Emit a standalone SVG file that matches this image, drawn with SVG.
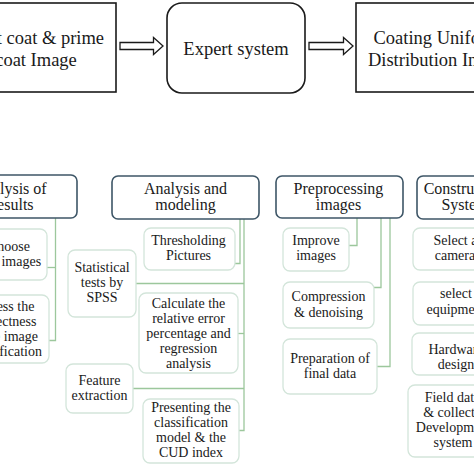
<svg xmlns="http://www.w3.org/2000/svg" width="474" height="474" viewBox="0 0 474 474" font-family="'Liberation Serif', 'DejaVu Serif', serif">
<style>
  text { font-family: "Liberation Serif", "DejaVu Serif", serif; fill: #1a1a1a; text-anchor: middle; }
  .top { font-size: 18.5px; }
  .hd { font-size: 16px; }
  .ch { font-size: 14px; }
  .tbox { fill: #ffffff; stroke: #1a1a1a; stroke-width: 1.6; }
  .arrow { fill: #ffffff; stroke: #1a1a1a; stroke-width: 1.3; stroke-linejoin: miter; }
  .hbox { fill: #ffffff; stroke: #3e5667; stroke-width: 1.6; }
  .cbox { fill: #ffffff; stroke: #d3e5da; stroke-width: 1.3; }
  .conn { fill: none; stroke: #9cc79c; stroke-width: 1.3; }
</style>
<rect x="0" y="0" width="474" height="474" fill="#ffffff"/>

<g id="node-input">
  <rect class="tbox" x="-60" y="3" width="176" height="89"/>
  <text class="top" x="36" y="44" font-family="Liberation Serif">First coat &amp; prime</text>
  <text class="top" x="36" y="66" font-family="Liberation Serif">coat Image</text>
</g>
<g id="node-expert">
  <rect class="tbox" x="167" y="3" width="138" height="90" rx="15" ry="15"/>
  <text class="top" x="236" y="55" font-family="Liberation Serif">Expert system</text>
</g>
<g id="node-output">
  <rect class="tbox" x="356" y="3" width="160" height="89"/>
  <text class="top" x="437" y="44" font-family="Liberation Serif">Coating Uniform</text>
  <text class="top" x="436" y="66" font-family="Liberation Serif">Distribution Index</text>
</g>

<g id="connectors">
  <path class="arrow" d="M120,42.5 H153.5 V37.5 L163,46 L153.5,54.5 V49.5 H120 Z"/>
  <path class="arrow" d="M309,42.5 H343.5 V37.5 L353,46 L343.5,54.5 V49.5 H309 Z"/>
  <path class="conn" d="M55.5,218 V340.5 H49"/>
  <path class="conn" d="M55.5,267.5 H47"/>
  <path class="conn" d="M240,219 V263.5 H235"/>
  <path class="conn" d="M244,219 V430.5 H239"/>
  <path class="conn" d="M136,283.5 H244"/>
  <path class="conn" d="M238,333.5 H244"/>
  <path class="conn" d="M133,388.5 H244"/>
  <path class="conn" d="M357,218 V245.5 H349"/>
  <path class="conn" d="M381,218 V287.5 H374"/>
  <path class="conn" d="M390,218 V366.5 H377"/>
</g>

<g id="node-results">
  <rect class="hbox" x="-57" y="175" width="134" height="43" rx="6"/>
  <text class="hd" x="10" y="194">Analysis of</text>
  <text class="hd" x="10" y="210">Results</text>
</g>
<g id="node-choose">
  <rect class="cbox" x="-30" y="229" width="77" height="51" rx="7"/>
  <text class="ch" x="9" y="251">Choose</text>
  <text class="ch" x="11" y="266">the images</text>
</g>
<g id="node-assess">
  <rect class="cbox" x="-40" y="295" width="89" height="68" rx="7"/>
  <text class="ch" x="5" y="311">Assess the</text>
  <text class="ch" x="5" y="326">correctness</text>
  <text class="ch" x="3" y="341">of the image</text>
  <text class="ch" x="5" y="356">classification</text>
</g>

<g id="node-modeling">
  <rect class="hbox" x="112" y="176" width="147" height="43" rx="6"/>
  <text class="hd" x="185.5" y="194">Analysis and</text>
  <text class="hd" x="185.5" y="210">modeling</text>
</g>
<g id="node-threshold">
  <rect class="cbox" x="144" y="228" width="91" height="42" rx="7"/>
  <text class="ch" x="188.5" y="245">Thresholding</text>
  <text class="ch" x="188.5" y="260">Pictures</text>
</g>
<g id="node-spss">
  <rect class="cbox" x="68" y="250" width="68" height="67" rx="7"/>
  <text class="ch" x="102" y="272">Statistical</text>
  <text class="ch" x="102" y="287">tests by</text>
  <text class="ch" x="102" y="302">SPSS</text>
</g>
<g id="node-error">
  <rect class="cbox" x="139" y="293" width="99" height="80" rx="7"/>
  <text class="ch" x="188.5" y="308">Calculate the</text>
  <text class="ch" x="188.5" y="323">relative error</text>
  <text class="ch" x="188.5" y="338">percentage and</text>
  <text class="ch" x="188.5" y="353">regression</text>
  <text class="ch" x="188.5" y="368">analysis</text>
</g>
<g id="node-feature">
  <rect class="cbox" x="66" y="364" width="67" height="49" rx="7"/>
  <text class="ch" x="99.5" y="385">Feature</text>
  <text class="ch" x="99.5" y="400">extraction</text>
</g>
<g id="node-present">
  <rect class="cbox" x="143" y="399" width="96" height="64" rx="7"/>
  <text class="ch" x="191" y="412">Presenting the</text>
  <text class="ch" x="191" y="427">classification</text>
  <text class="ch" x="191" y="442">model &amp; the</text>
  <text class="ch" x="191" y="457">CUD index</text>
</g>

<g id="node-preprocess">
  <rect class="hbox" x="276" y="176" width="127" height="42" rx="6"/>
  <text class="hd" x="338.5" y="194">Preprocessing</text>
  <text class="hd" x="338.5" y="210">images</text>
</g>
<g id="node-improve">
  <rect class="cbox" x="283" y="228" width="66" height="43" rx="7"/>
  <text class="ch" x="316" y="245">Improve</text>
  <text class="ch" x="316" y="260">images</text>
</g>
<g id="node-compress">
  <rect class="cbox" x="283" y="282" width="91" height="46" rx="7"/>
  <text class="ch" x="328.5" y="301">Compression</text>
  <text class="ch" x="328.5" y="317">&amp; denoising</text>
</g>
<g id="node-prepare">
  <rect class="cbox" x="283" y="339" width="94" height="55" rx="7"/>
  <text class="ch" x="330" y="363">Preparation of</text>
  <text class="ch" x="330" y="378">final data</text>
</g>

<g id="node-construct">
  <rect class="hbox" x="417" y="176" width="96" height="43" rx="6"/>
  <text class="hd" x="465" y="194">Construction</text>
  <text class="hd" x="465" y="210">System</text>
</g>
<g id="node-camera">
  <rect class="cbox" x="413" y="228" width="84" height="42" rx="7"/>
  <text class="ch" x="455.5" y="245">Select a</text>
  <text class="ch" x="455" y="260">camera</text>
</g>
<g id="node-equip">
  <rect class="cbox" x="413" y="282" width="86" height="43" rx="7"/>
  <text class="ch" x="456" y="298">select</text>
  <text class="ch" x="456" y="314">equipment</text>
</g>
<g id="node-hardware">
  <rect class="cbox" x="412" y="333" width="88" height="42" rx="7"/>
  <text class="ch" x="456" y="354">Hardware</text>
  <text class="ch" x="456" y="369">design</text>
</g>
<g id="node-field">
  <rect class="cbox" x="408" y="385" width="94" height="72" rx="7"/>
  <text class="ch" x="452.5" y="402">Field data</text>
  <text class="ch" x="458" y="417">&amp; collection</text>
  <text class="ch" x="453.5" y="432">Development</text>
  <text class="ch" x="453" y="447">system</text>
</g>
</svg>
